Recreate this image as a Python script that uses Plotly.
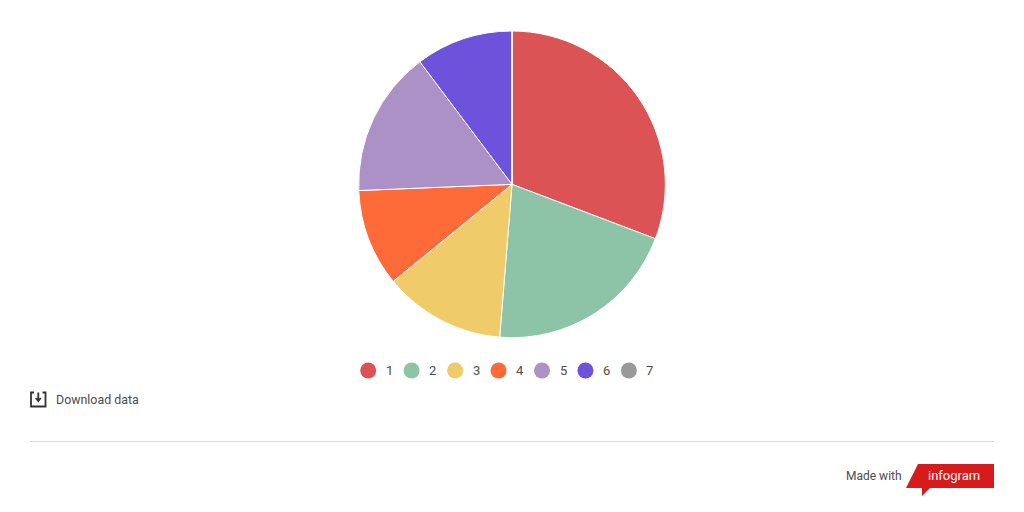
import plotly.graph_objects as go

categories = ["1", "2", "3", "4", "5", "6", "7"]
values = [3, 2, 1.25, 1, 1.5, 1, 0]
colors = ["#dc5356", "#8dc3a7", "#f0cb69", "#ff6b38", "#ab91c5", "#6d53dc", "#999999"]

W, H = 1024, 512
LEG_X0, LEG_PITCH, LEG_Y, LEG_GAP = 368.2, 43.45, 370.5, 21

fig = go.Figure()
fig.add_trace(go.Pie(
    labels=categories, values=values, sort=False, direction="clockwise", rotation=0,
    marker=dict(colors=colors, line=dict(color="#ffffff", width=1)),
    textinfo="none", hoverinfo="label+value", showlegend=False,
    domain=dict(x=[0, 1], y=[1 - 337.7 / H, 1 - 31 / H]),
))
# legend rows: one circle and one label per category
for i, (c, col) in enumerate(zip(categories, colors)):
    fig.add_trace(go.Scatter(
        x=[LEG_X0 + i * LEG_PITCH], y=[LEG_Y], mode="markers", name=c, showlegend=False,
        marker=dict(color=col, size=16, symbol="circle", line=dict(width=0)),
        hoverinfo="skip",
    ))

shapes = [
    dict(type="line", x0=30, x1=994, y0=441.5, y1=441.5, line=dict(color="#d9d9d9", width=1)),
    dict(type="path", path="M34 392.5 H31 V406.5 H45.5 V392.5 H42.5", line=dict(color="#333333", width=1.8)),
    dict(type="path", path="M38.3 392.5 V400.5 M35.8 398 L38.3 401 L40.8 398", line=dict(color="#333333", width=1.8)),
    dict(type="path", path="M918 464 H994 V488 H930 L922 496 V488 H906 Z",
         fillcolor="#d71a1b", line=dict(width=0)),
]
annotations = [
    dict(x=55.5, y=399.5, text="Download data", xanchor="left", yanchor="middle",
         font=dict(family="Roboto", size=12.4, color="#4a4a4a")),
    dict(x=901.5, y=476, text="Made with", xanchor="right", yanchor="middle",
         font=dict(family="Roboto", size=12, color="#4a4a4a")),
    dict(x=954, y=475.5, text="infogram", xanchor="center", yanchor="middle",
         font=dict(family="Roboto", size=13, color="#ffffff")),
]
for i, c in enumerate(categories):
    annotations.append(dict(x=LEG_X0 + i * LEG_PITCH + LEG_GAP, y=LEG_Y, text=c,
                            xanchor="center", yanchor="middle",
                            font=dict(family="Roboto", size=13, color="#4a4a4a")))
for a in annotations:
    a.update(xref="x", yref="y", showarrow=False, borderpad=0, borderwidth=0, opacity=0.99)
for s in shapes:
    s.update(xref="x", yref="y", layer="above")

fig.update_layout(
    width=W, height=H, margin=dict(l=0, r=0, t=0, b=0),
    paper_bgcolor="#ffffff", plot_bgcolor="#ffffff",
    font=dict(family="Roboto", size=12, color="#4a4a4a"),
    xaxis=dict(range=[0, W], visible=False, fixedrange=True),
    yaxis=dict(range=[H, 0], visible=False, fixedrange=True),
    shapes=shapes, annotations=annotations,
    showlegend=False,
)
fig.write_html("out.html", config=dict(displayModeBar=False),
               post_script="document.body.style.margin='0';document.body.style.overflow='hidden';")
